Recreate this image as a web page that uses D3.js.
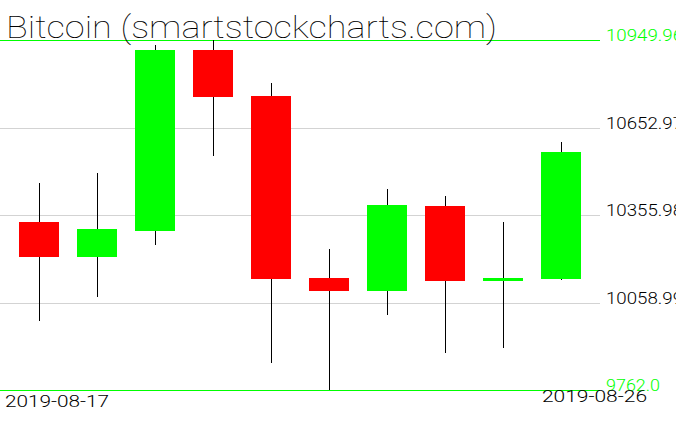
<!DOCTYPE html>
<html>
<head>
<meta charset="utf-8">
<script src="https://cdn.jsdelivr.net/npm/d3@7"></script>
<style>
  html, body { margin: 0; padding: 0; background: #fff; }
  svg { display: block; }
  text { font-family: Roboto, "DejaVu Sans", sans-serif; font-weight: 300; }
  text.title { font-weight: 100; }
</style>
</head>
<body>
<script>
const title = "Bitcoin (smartstockcharts.com)";
const dates = ["2019-08-17","2019-08-18","2019-08-19","2019-08-20","2019-08-21",
               "2019-08-22","2019-08-23","2019-08-24","2019-08-25","2019-08-26"];
const openVals  = [10332, 10215, 10303, 10916, 10760, 10142, 10099, 10387, 10132, 10140];
const closeVals = [10215, 10309, 10916, 10758, 10140, 10099, 10391, 10133, 10142, 10570];
const highVals  = [10465, 10499, 10933, 10949.96, 10804, 10241, 10444, 10421, 10332, 10604];
const lowVals   = [9997, 10079, 10255, 10557, 9855, 9762.0, 10018, 9889, 9905, 10135];
const tickValues = [9762.0, 10058.99, 10355.98, 10652.97, 10949.96];
const tickLabels = ["9762.0", "10058.99", "10355.98", "10652.97", "10949.96"];
const dateLabels = ["2019-08-17", "2019-08-26"];

const W = 676, H = 431;
const svg = d3.select("body").append("svg").attr("width", W).attr("height", H);

const x = d3.scaleBand().domain(dates).range([10, 590])
  .paddingInner(18/58).paddingOuter(9/58);
const y = d3.scaleLinear().domain([tickValues[0], tickValues[tickValues.length-1]]).range([390, 40]);

const data = dates.map((d, i) => ({
  date: d, open: openVals[i], close: closeVals[i], high: highVals[i], low: lowVals[i]
}));

// grid lines
const edgeIdx = [0, tickValues.length - 1];
svg.append("g").selectAll("line").data(tickValues).join("line")
  .attr("x1", 0).attr("x2", 600)
  .attr("y1", d => Math.round(y(d)) + 0.5).attr("y2", d => Math.round(y(d)) + 0.5)
  .attr("stroke", (d, i) => edgeIdx.includes(i) ? "#00ff00" : "#d3d3d3")
  .attr("stroke-width", 1)
  .attr("shape-rendering", "crispEdges");

// candles
const g = svg.append("g");
g.selectAll("line.wick").data(data).join("line").attr("class", "wick")
  .attr("x1", d => Math.round(x(d.date) + x.bandwidth()/2) + 0.5)
  .attr("x2", d => Math.round(x(d.date) + x.bandwidth()/2) + 0.5)
  .attr("y1", d => y(d.high)).attr("y2", d => y(d.low))
  .attr("stroke", "#000").attr("stroke-width", 1)
  .attr("shape-rendering", "crispEdges");
g.selectAll("rect.body").data(data).join("rect").attr("class", "body")
  .attr("x", d => x(d.date))
  .attr("width", x.bandwidth())
  .attr("y", d => y(Math.max(d.open, d.close)))
  .attr("height", d => Math.max(2, Math.abs(y(d.open) - y(d.close))))
  .attr("fill", d => d.close >= d.open ? "#00ff00" : "#ff0000")
  .attr("shape-rendering", "crispEdges");

// right labels
svg.append("g").selectAll("text").data(tickValues).join("text")
  .attr("x", 606)
  .attr("y", d => Math.round(y(d)) + 1)
  .attr("font-size", 16)
  .attr("textLength", (d, i) => tickLabels[i].length === 6 ? 54 : 77)
  .attr("lengthAdjust", "spacingAndGlyphs")
  .attr("fill", (d, i) => edgeIdx.includes(i) ? "#00ff00" : "#000")
  .text((d, i) => tickLabels[i]);

// date labels
svg.append("text").attr("x", 5).attr("y", 407).attr("font-size", 16)
  .attr("textLength", 104).attr("lengthAdjust", "spacingAndGlyphs")
  .text(dateLabels[0]);
svg.append("text").attr("x", 542).attr("y", 402).attr("font-size", 16)
  .attr("textLength", 105).attr("lengthAdjust", "spacingAndGlyphs")
  .text(dateLabels[1]);

// title
svg.append("text").attr("class", "title").attr("x", 6).attr("y", 38).attr("font-size", 32)
  .attr("textLength", 491).attr("lengthAdjust", "spacingAndGlyphs")
  .text(title);
</script>
</body>
</html>
